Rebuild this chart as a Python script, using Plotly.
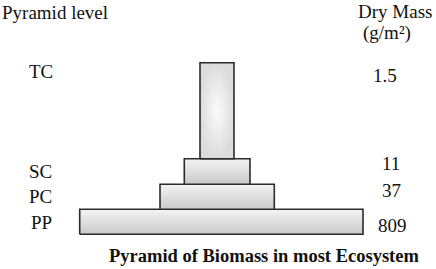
import plotly.graph_objects as go

# ---- data ----
levels = ["PP", "PC", "SC", "TC"]
dry_mass = ["809", "37", "11", "1.5"]
# schematic box extents (pixel-like units of the drawing)
box_left = [79.7, 160.0, 184.3, 200.0]
box_right = [363.0, 274.3, 250.0, 234.0]
box_bottom = [234.3, 209.3, 184.3, 158.7]
box_top = [209.3, 184.3, 158.7, 62.7]

# label placement
label_x = [29, 27, 27, 27]
label_y = [222, 196.5, 171.5, 71]
value_x = [392, 391, 391, 385]
value_y = [225, 190, 163, 75]

FONT = "Liberation Serif"
FS = 19
fig = go.Figure()

for i, lv in enumerate(levels):
    l, r, b, t = box_left[i], box_right[i], box_bottom[i], box_top[i]
    if lv == "TC":
        grad = dict(type="radial", colorscale=[[0, "#fbfbfb"], [1, "#dcdcdc"]])
    else:
        grad = dict(type="vertical", colorscale=[[0, "#c9c9c9"], [1, "#f4f4f4"]])
    fig.add_trace(go.Scatter(
        x=[l, r, r, l, l], y=[b, b, t, t, b], mode="lines", fill="toself",
        fillgradient=grad, line=dict(color="#2b2b2b", width=1.6),
        hoverinfo="skip", showlegend=False))

annotations = []
for i, lv in enumerate(levels):
    annotations.append(dict(x=label_x[i], y=label_y[i], text=lv, showarrow=False,
                            xanchor="left", yanchor="middle",
                            font=dict(family=FONT, size=FS, color="#111")))
    annotations.append(dict(x=value_x[i], y=value_y[i], text=dry_mass[i], showarrow=False,
                            xanchor="center", yanchor="middle",
                            font=dict(family=FONT, size=FS, color="#111")))

annotations += [
    dict(x=0, y=12, text="Pyramid level", showarrow=False, xanchor="left", yanchor="middle",
         font=dict(family=FONT, size=FS, color="#111")),
    dict(x=395, y=11, text="Dry Mass", showarrow=False, xanchor="center", yanchor="middle",
         font=dict(family=FONT, size=FS, color="#111")),
    dict(x=387, y=32.5, text="(g/m²)", showarrow=False, xanchor="center", yanchor="middle",
         font=dict(family=FONT, size=FS, color="#111")),
    dict(x=264, y=256, text="<b>Pyramid of Biomass in most Ecosystem</b>", showarrow=False,
         xanchor="center", yanchor="middle", font=dict(family=FONT, size=18.5, color="#111")),
]

fig.update_layout(
    width=436, height=269, margin=dict(l=0, r=0, t=0, b=0),
    paper_bgcolor="white", plot_bgcolor="white",
    xaxis=dict(range=[0, 436], visible=False, fixedrange=True),
    yaxis=dict(range=[269, 0], visible=False, fixedrange=True),
    annotations=annotations, showlegend=False,
)
fig.write_html("out.html")
